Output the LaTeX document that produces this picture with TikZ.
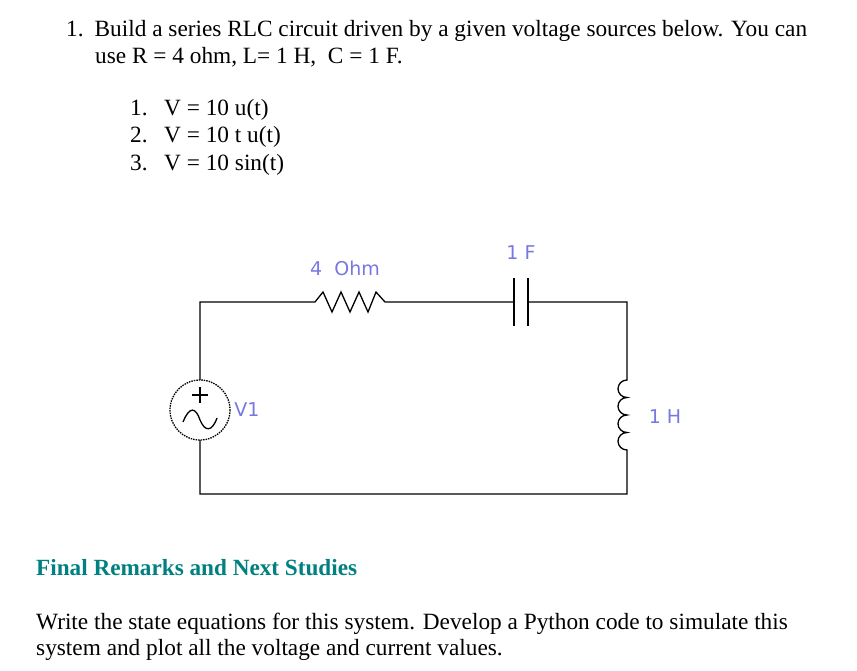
\documentclass[tikz,border=0pt]{standalone}
\usepackage{fontspec}
\setmainfont{Liberation Serif}
\newfontfamily\lsans{DejaVu Sans}
\definecolor{lbl}{RGB}{120,120,225}
\definecolor{teal2}{RGB}{0,128,128}
\begin{document}
\begin{tikzpicture}[x=1pt,y=-1pt,
  txt/.style={anchor=base west,inner sep=0,font=\fontsize{23.3}{26}\selectfont},
  lab/.style={inner sep=0,text=lbl,font=\lsans\fontsize{19}{21}\selectfont},
  wire/.style={line width=1.3pt,black}]
\useasboundingbox (0,0) rectangle (857,671);
\node[txt] (t1) at (66,37) {1.\hspace{11pt}Build a series RLC circuit driven by a given voltage sources below. You can};
\node[txt] (t2) at (95,64) {use R = 4 ohm, L= 1 H,\ \ C = 1 F.};
\node[txt] (l1n) at (130,116) {1.};
\node[txt] (l1) at (164,116) {V = 10 u(t)};
\node[txt] (l2n) at (130,143) {2.};
\node[txt] (l2) at (164,143) {V = 10 t u(t)};
\node[txt] (l3n) at (130,171) {3.};
\node[txt] (l3) at (164,171) {V = 10 sin(t)};
\node[txt,text=teal2,font=\bfseries\fontsize{23.2}{26}\selectfont] (fr) at (36,575) {Final Remarks and Next Studies};
\node[txt] (p1) at (36,629) {Write the state equations for this system. Develop a Python code to simulate this};
\node[txt] (p2) at (36,655) {system and plot all the voltage and current values.};
% circuit
\coordinate (s) at (200,410);
\draw[wire,dash pattern=on 1.5pt off 1pt] (s) circle (30);
\draw[wire] (200,387) -- (200,403) (192,395) -- (208,395);
\draw[wire] (183,422) .. controls (190,405) and (196,408) .. (200,420) .. controls (205,432) and (212,432) .. (217,418);
\draw[wire] (200,380) -- (200,302) -- (315,302) -- (323,292) -- (332,312) -- (341,292) -- (350,312) -- (359,292) -- (368,312) -- (376,292) -- (385,302) -- (514,302);
\draw[wire] (514,278) -- (514,326) (528,278) -- (528,326);
\draw[wire] (528,302) -- (627,302) -- (627,380)
  arc[start angle=-90,end angle=90,x radius=-9,y radius=8.75]
  arc[start angle=-90,end angle=90,x radius=-9,y radius=8.75]
  arc[start angle=-90,end angle=90,x radius=-9,y radius=8.75]
  arc[start angle=-90,end angle=90,x radius=-9,y radius=8.75]
  -- (627,494) -- (200,494) -- (200,440);
\node[lab] (rl) at (345,268) {4\ \ Ohm};
\node[lab] (cl) at (521,253) {1 F};
\node[lab] (vl) at (247,410) {V1};
\node[lab] (ll) at (665,417) {1 H};
\end{tikzpicture}
\end{document}
